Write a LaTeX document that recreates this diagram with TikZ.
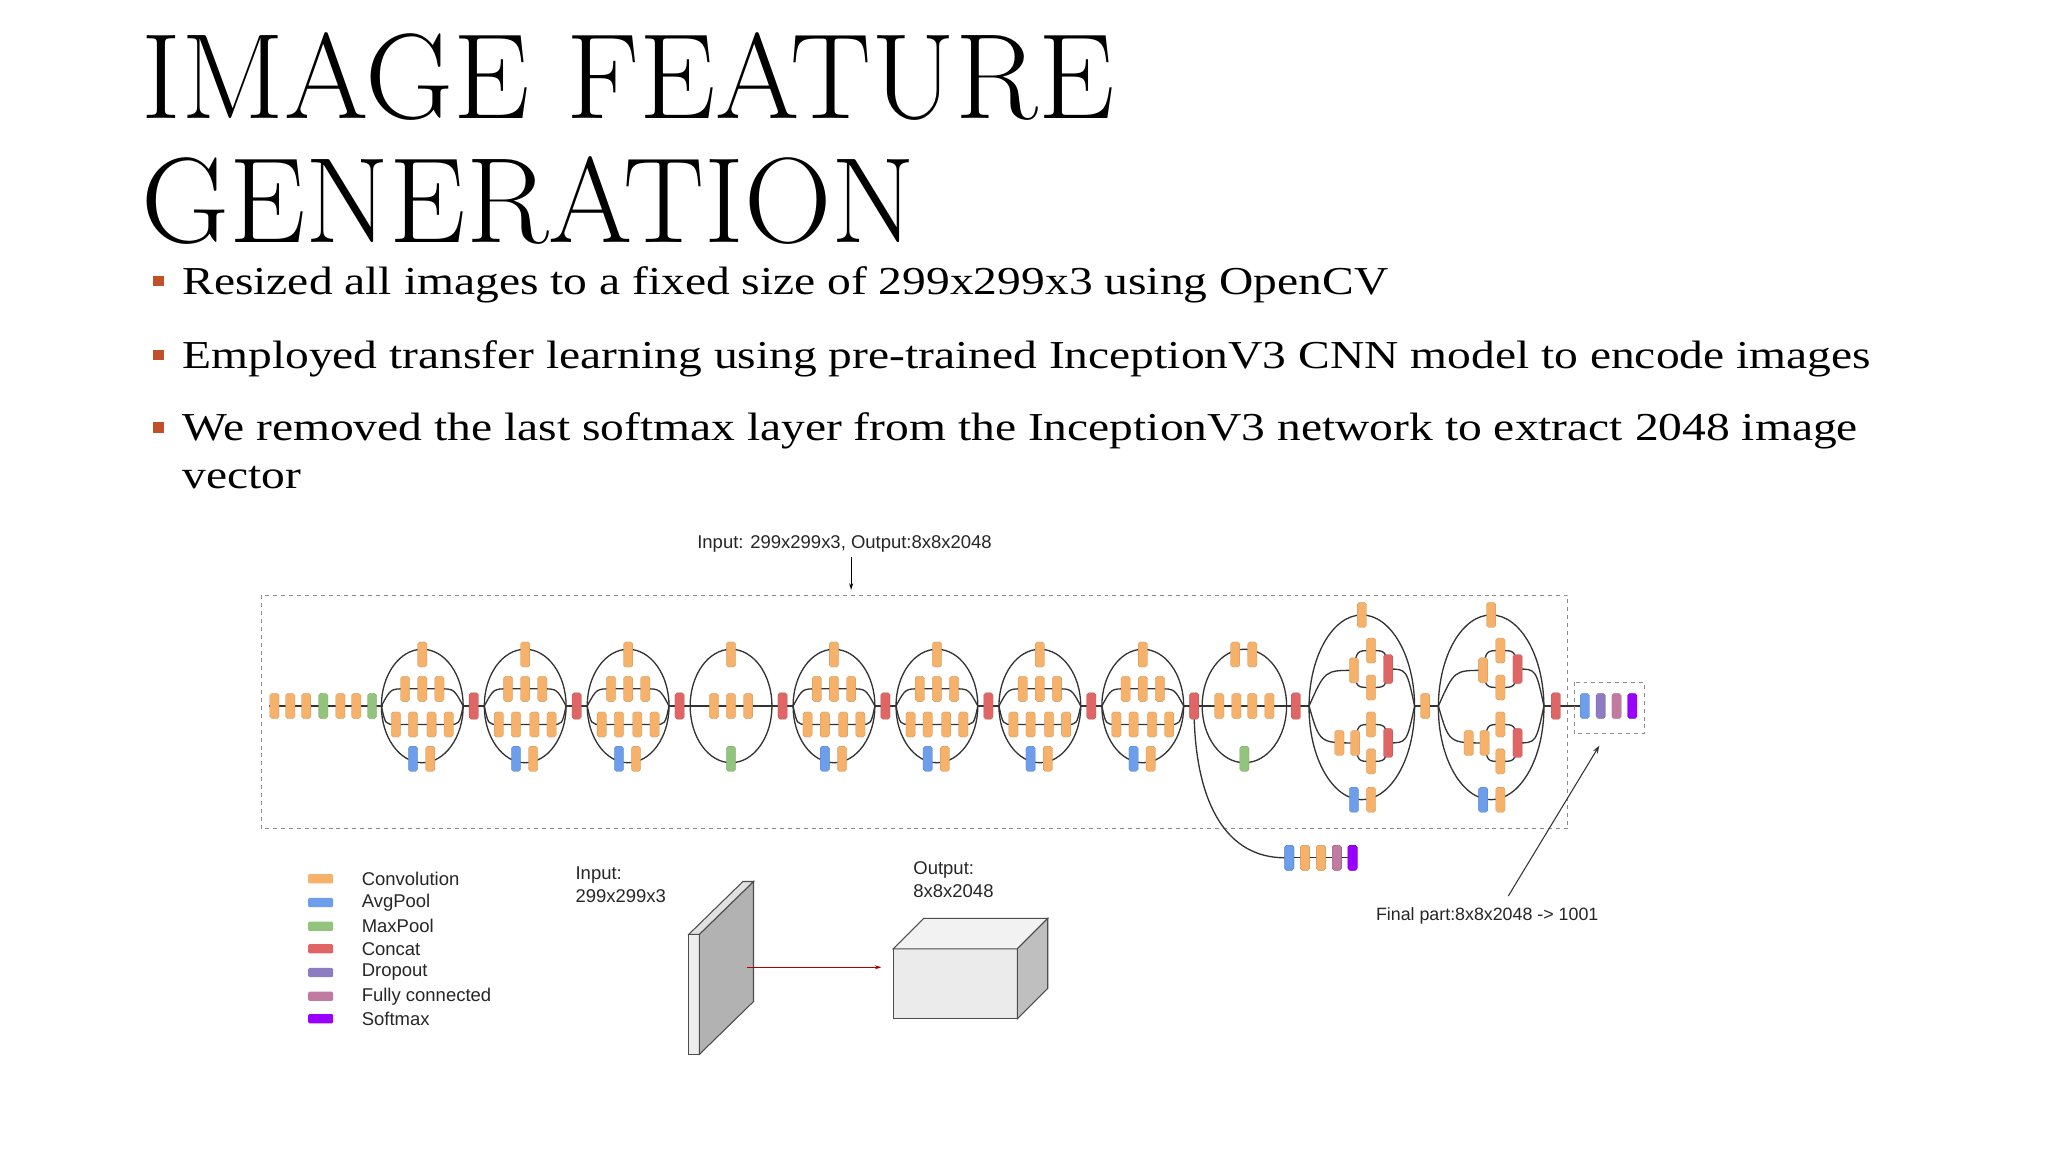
\documentclass[tikz,border=0pt]{standalone}
\usepackage{fontspec}
\newfontfamily\bodyfont[FakeStretch=1.2]{Liberation Serif}
\newfontfamily\diafont{Liberation Sans}
\usetikzlibrary{arrows.meta}
\definecolor{conv}{HTML}{F6B26B}
\definecolor{avgp}{HTML}{6D9EEB}
\definecolor{maxp}{HTML}{93C47D}
\definecolor{concat}{HTML}{E06666}
\definecolor{drop}{HTML}{8E7CC3}
\definecolor{fcon}{HTML}{C27BA0}
\definecolor{smax}{HTML}{9900FF}
\definecolor{bul}{HTML}{C0502A}
\tikzset{
 blk/.style={rectangle,rounded corners=1.5pt,minimum width=7pt,minimum height=19pt,inner sep=0pt,draw=#1!80!black,line width=0.2pt,fill=#1},
 wire/.style={draw=black!80,line width=1pt},
 lab/.style={font=\diafont\fontsize{14}{17}\selectfont,text=black!85},
 bullettext/.style={anchor=base west,font=\bodyfont\fontsize{30}{30}\selectfont,inner sep=0pt},
 bulsq/.style={fill=bul,minimum size=8pt,inner sep=0pt},
 legbar/.style={rectangle,rounded corners=1pt,minimum width=19pt,minimum height=7pt,inner sep=0pt,fill=#1},
}
% module with 4 branches (top, 3-row, 4-row, pool)
\newcommand\modA[2]{%
 \coordinate (#2L) at ({#1-31},535); \coordinate (#2R) at ({#1+31},535);
 \draw[wire] (#1,535) ellipse (31pt and 43pt);
 \draw[wire] (#2L) .. controls ({#1-24},522) .. ({#1-13},522) -- ({#1+13},522) .. controls ({#1+24},522) .. (#2R);
 \draw[wire] (#2L) .. controls ({#1-28},549) .. ({#1-20},549) -- ({#1+20},549) .. controls ({#1+28},549) .. (#2R);
 \node[blk=conv] (#2t) at (#1,496) {};
 \node[blk=conv] (#2a1) at ({#1-13},522) {};\node[blk=conv] (#2a2) at (#1,522) {};\node[blk=conv] (#2a3) at ({#1+13},522) {};
 \node[blk=conv] (#2b1) at ({#1-20},549) {};\node[blk=conv] (#2b2) at ({#1-7},549) {};\node[blk=conv] (#2b3) at ({#1+7},549) {};\node[blk=conv] (#2b4) at ({#1+20},549) {};
 \node[blk=avgp] (#2p1) at ({#1-7},575) {};\node[blk=conv] (#2p2) at ({#1+6},575) {};
}
\newcommand\modB[2]{%
 \coordinate (#2L) at ({#1-31},535); \coordinate (#2R) at ({#1+31},535);
 \draw[wire] (#1,535) ellipse (31pt and 43pt);
 \draw[wire] (#2L) -- (#2R);
 \node[blk=conv] (#2t) at (#1,496) {};
 \node[blk=conv] (#2a1) at ({#1-13},535) {};\node[blk=conv] (#2a2) at (#1,535) {};\node[blk=conv] (#2a3) at ({#1+13},535) {};
 \node[blk=maxp] (#2p) at (#1,575) {};
}
\newcommand\modC[2]{%
 \coordinate (#2L) at ({#1-32},535); \coordinate (#2R) at ({#1+32},535);
 \draw[wire] (#1,535) ellipse (32pt and 43pt);
 \draw[wire] (#2L) -- (#2R);
 \node[blk=conv] (#2t1) at ({#1-7},496) {};\node[blk=conv] (#2t2) at ({#1+6},496) {};
 \node[blk=conv] (#2a1) at ({#1-19},535) {};\node[blk=conv] (#2a2) at ({#1-6},535) {};\node[blk=conv] (#2a3) at ({#1+6},535) {};\node[blk=conv] (#2a4) at ({#1+19},535) {};
 \node[blk=maxp] (#2p) at (#1,575) {};
}
\newcommand\modD[2]{%
 \coordinate (#2L) at ({#1-40},535); \coordinate (#2R) at ({#1+40},535);
 \draw[wire] (#1,536) ellipse (40pt and 70pt);
 \draw[wire] (#2L) .. controls ({#1-28},508) .. ({#1-6},508);
 \draw[wire] ({#1-6},508) .. controls ({#1-4},493) .. ({#1+7},493) .. controls ({#1+18},493) .. ({#1+20},507);
 \draw[wire] ({#1-6},508) .. controls ({#1-4},521) .. ({#1+7},521) .. controls ({#1+18},521) .. ({#1+20},507);
 \draw[wire] ({#1+20},507) .. controls ({#1+34},507) .. (#2R);
 \draw[wire] (#2L) .. controls ({#1-32},563) .. ({#1-5},563);
 \draw[wire] ({#1-5},563) .. controls ({#1-3},549) .. ({#1+7},549) .. controls ({#1+18},549) .. ({#1+20},563);
 \draw[wire] ({#1-5},563) .. controls ({#1-3},577) .. ({#1+7},577) .. controls ({#1+18},577) .. ({#1+20},563);
 \draw[wire] ({#1+20},563) .. controls ({#1+34},563) .. (#2R);
 \node[blk=conv] (#2t) at (#1,466) {};
 \node[blk=conv] (#2u1) at ({#1-6},508) {};\node[blk=conv] (#2u2) at ({#1+7},493) {};\node[blk=conv] (#2u3) at ({#1+7},521) {};
 \node[blk=concat,minimum height=22pt] (#2u4) at ({#1+20},507) {};
 \node[blk=conv] (#2l0) at ({#1-17},563) {};\node[blk=conv] (#2l1) at ({#1-5},563) {};\node[blk=conv] (#2l2) at ({#1+7},549) {};\node[blk=conv] (#2l3) at ({#1+7},577) {};
 \node[blk=concat,minimum height=22pt] (#2l4) at ({#1+20},563) {};
 \node[blk=avgp] (#2p1) at ({#1-6},606) {};\node[blk=conv] (#2p2) at ({#1+7},606) {};
}
\begin{document}
\begin{tikzpicture}[x=1pt,y=-1pt]
\useasboundingbox[fill=white] (0,0) rectangle (1552,873);
% title
\node[anchor=base west,inner sep=0pt,font={\addfontfeatures{FakeBold=1.5}\fontsize{92}{92}\selectfont}] (t1) at (107,90) {IMAGE FEATURE};
\node[anchor=base west,inner sep=0pt,font={\addfontfeatures{FakeBold=1.5}\fontsize{92}{92}\selectfont}] (t2) at (107,184) {GENERATION};
% bullets
\node[bulsq] (b1) at (120,213) {};
\node[bullettext] (l1) at (138,223) {Resized all images to a fixed size of 299x299x3 using OpenCV};
\node[bulsq] (b2) at (120,269) {};
\node[bullettext] (l2) at (138,279) {Employed transfer learning using pre-trained InceptionV3 CNN model to encode images};
\node[bulsq] (b3) at (120,324) {};
\node[bullettext] (l3) at (138,334) {We removed the last softmax layer from the InceptionV3 network to extract 2048 image};
\node[bullettext] (l4) at (138,370) {vector};
% caption
\node[lab] (cap) at (640,412) {Input: 299x299x3, Output:8x8x2048};
\coordinate (capend) at (645,447);
\draw[-{Stealth[length=5pt,width=3pt]},line width=0.7pt] (645,422) -- (capend);
% dashed frame
\draw[dashed,draw=black!45,line width=0.8pt] (198,451) rectangle (1188,628);
% spine
\draw[wire] (204,535) -- (290,535);
\foreach \x/\c [count=\i] in {208/conv,220/conv,232/conv,245/maxp,258/conv,270/conv,282/maxp}
  \node[blk=\c] (s\i) at (\x,535) {};
\modA{320}{m1}
\modA{398}{m2}
\modA{476}{m3}
\modB{554}{m4}
\modA{632}{m5}
\modA{710}{m6}
\modA{788}{m7}
\modA{866}{m8}
\modC{943}{m9}
\modD{1032}{m10}
\modD{1130}{m11}
\foreach \a/\b in {m1R/m2L,m2R/m3L,m3R/m4L,m4R/m5L,m5R/m6L,m6R/m7L,m7R/m8L,m8R/m9L,m9R/m10L,m10R/m11L}
  \draw[wire] (\a) -- (\b);
\draw[wire] (m11R) -- (1200,535);
\foreach \x/\n in {359/c1,437/c2,515/c3,593/c4,671/c5,749/c6,827/c7,905/c8,982/c9,1179/c10}
  \node[blk=concat,minimum height=20pt] (\n) at (\x,535) {};
\node[blk=conv] (mid) at (1080,535) {};
% aux branch
\node[blk=avgp] (a1) at (977,650) {};
\node[blk=conv] (a2) at (989,650) {};
\node[blk=conv] (a3) at (1001,650) {};
\node[blk=fcon] (a4) at (1013,650) {};
\node[blk=smax] (a5) at (1025,650) {};
\draw[wire] (c8.south) .. controls (907,610) and (930,650) .. (a1.west);
\draw[wire] (a1) -- (a5);
\foreach \i in {1,...,5} \node[blk=avgp,draw=none,fill=none] at (a\i) {};
\node[blk=avgp] at (977,650) {};\node[blk=conv] at (989,650) {};\node[blk=conv] at (1001,650) {};\node[blk=fcon] at (1013,650) {};\node[blk=smax] at (1025,650) {};
% final part
\draw[dashed,draw=black!45,line width=0.8pt] (1193,517) rectangle (1246,556);
\node[blk=avgp] (f1) at (1201,535) {};
\node[blk=drop] (f2) at (1213,535) {};
\node[blk=fcon] (f3) at (1225,535) {};
\node[blk=smax] (f4) at (1237,535) {};
\node[lab,font=\diafont\fontsize{13.5}{16}\selectfont] (fp) at (1127,694) {Final part:8x8x2048 -> 1001};
\coordinate (fpend) at (1212,565);
\draw[-{Stealth[length=6pt,width=4pt]},line width=0.8pt,black!80] (1143,679) -- (fpend);
% legend
\foreach \c/\t/\y in {conv/Convolution/666,avgp/AvgPool/684,maxp/MaxPool/702,concat/Concat/719,drop/Dropout/737,fcon/Fully connected/755,smax/Softmax/772}{
  \node[legbar=\c] at (243,\y) {};
  \node[lab,anchor=west,inner sep=0pt] at (274,\y) {\t};
}
% input slab
\node[lab,anchor=north west,align=left,inner sep=0pt] (inp) at (436,657) {Input:\\299x299x3};
\draw[black!70,line width=0.8pt,fill=black!7] (522,708) rectangle (530,799);
\draw[black!70,line width=0.8pt,fill=black!30] (530,708) -- (571,668) -- (571,759) -- (530,799) -- cycle;
\draw[black!70,line width=0.8pt,fill=black!12] (522,708) -- (563,668) -- (571,668) -- (530,708) -- cycle;
% output box
\node[lab,anchor=north west,align=left,inner sep=0pt] (outp) at (692,653) {Output:\\8x8x2048};
\draw[black!70,line width=0.8pt,fill=black!8] (677,719) rectangle (771,772);
\draw[black!70,line width=0.8pt,fill=black!5] (677,719) -- (700,696) -- (794,696) -- (771,719) -- cycle;
\draw[black!70,line width=0.8pt,fill=black!25] (771,719) -- (794,696) -- (794,749) -- (771,772) -- cycle;
\coordinate (slab) at (566,733);
\coordinate (box) at (668,733);
\draw[-{Stealth[length=5pt,width=3pt]},line width=0.8pt,draw=red!70!black,fill=red!70!black] (slab) -- (box);
\end{tikzpicture}
\end{document}
